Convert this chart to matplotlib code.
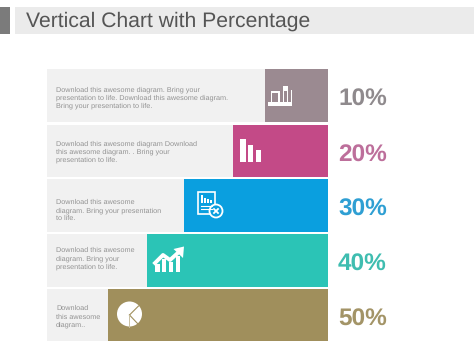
import matplotlib
matplotlib.use("Agg")
import matplotlib.pyplot as plt
from matplotlib.patches import Rectangle, Circle, Polygon

plt.rcParams['font.family'] = ['Liberation Sans', 'DejaVu Sans']
plt.rcParams['text.hinting'] = 'no_hinting'

title = "Vertical Chart with Percentage"
percents = ["10%", "20%", "30%", "40%", "50%"]
bar_lengths = [63, 95, 144, 181, 220]
bar_colors = ["#9b8a91", "#c34a87", "#0a9fdf", "#2bc4b6", "#a08f5c"]
pct_colors = ["#8f8a8d", "#bd6f9b", "#2f9fd3", "#3fbdb0", "#a39467"]
descriptions = [
    "Download this awesome diagram. Bring your\npresentation to life. Download this awesome diagram.\nBring your presentation to life.",
    "Download this awesome diagram Download\nthis awesome diagram. . Bring your\npresentation to life.",
    "Download this awesome\ndiagram. Bring your presentation\nto life.",
    "Download this awesome\ndiagram. Bring your\npresentation to life.",
    "Download\nthis awesome\ndiagram..",
]
row_tops = [69, 124.5, 179, 234, 288.5]
text_shift = [2.5, 1, 5, -2, 2]
row_h = 52.5
left = 47
right = 328

fig = plt.figure(figsize=(4.74, 3.55), dpi=100)
ax = fig.add_axes([0, 0, 1, 1])
ax.set_xlim(0, 474)
ax.set_ylim(355, 0)
ax.axis("off")

# header
ax.add_patch(Rectangle((0, 7), 10, 27, color="#7b7b7b", lw=0))
ax.add_patch(Rectangle((15, 7), 459, 27, color="#ebebeb", lw=0))
ax.text(26, 21, title, fontsize=15.2, color="#555555", va="center", ha="left")

# rows
centers = [t + row_h / 2 for t in row_tops]
ax.barh(centers, [right - left] * 5, height=row_h, left=left, color="#f1f1f1", lw=0)
starts = [right - b for b in bar_lengths]
ax.barh(centers, bar_lengths, height=row_h, left=starts, color=bar_colors, lw=0)

for i in range(5):
    ax.text(56, centers[i] + text_shift[i], descriptions[i], fontsize=5.25, color="#939393",
            va="center", ha="left", linespacing=1.36)
    ax.text(338, centers[i] + 4.5, percents[i], fontsize=17.6, fontweight="bold",
            color=pct_colors[i], va="center", ha="left")

W = "white"

# icon 1, laptop with bars
for x, y, w, h in [(271, 92, 1.5, 10), (271, 91, 9, 1.5), (278.5, 92, 1.5, 10),
                   (283, 91, 1.5, 11), (287, 91, 1.5, 11), (283, 86, 5.5, 5), (291, 90, 1.2, 12)]:
    ax.add_patch(Rectangle((x, y), w, h, color=W, lw=0))
ax.add_patch(Rectangle((268, 102), 24, 4, color=W, lw=0))

# icon 2, falling bars
for x, y, w, h in [(240, 139, 6, 23), (248, 145, 5.5, 17), (256, 150, 5, 12)]:
    ax.add_patch(Rectangle((x, y), w, h, color=W, lw=0))

# icon 3, document with cross
ax.add_patch(Rectangle((198, 192), 17, 22, fill=False, ec=W, lw=1.2))
for x, y, h in [(201, 195, 8), (204, 198, 5), (207, 199, 4), (210, 200, 3)]:
    ax.add_patch(Rectangle((x, y), 1.8, h, color=W, lw=0))
for y in [206, 209]:
    ax.plot([201, 212], [y, y], color=W, lw=0.8)
ax.add_patch(Circle((216, 211), 6.5, fc="#0a9fdf", ec=W, lw=1.3))
ax.plot([214, 218], [209, 213], color=W, lw=1.3)
ax.plot([214, 218], [213, 209], color=W, lw=1.3)

# icon 4, growth chart with arrow
for x, y, h in [(155.5, 264, 8), (162, 259, 13), (169, 262, 10), (176, 256, 16)]:
    ax.add_patch(Rectangle((x, y), 4.3, h, color=W, lw=0))
ax.plot([155, 163, 170, 180], [263, 255, 260, 251], color=W, lw=2.8)
ax.add_patch(Polygon([[173.5, 249], [184, 246.5], [183, 258]], color=W, lw=0))

# icon 5, pie with thin slice lines
ax.add_patch(Circle((129.5, 314), 12.5, color=W, lw=0))
ax.plot([129.5, 138.5], [315, 306], color="#a08f5c", lw=0.8)
ax.plot([129.5, 138.5], [315, 324.5], color="#a08f5c", lw=0.8)
ax.plot([129.5, 129.5], [315, 326.5], color="#c9c0a3", lw=0.7)

fig.savefig("out.png", dpi=100)
